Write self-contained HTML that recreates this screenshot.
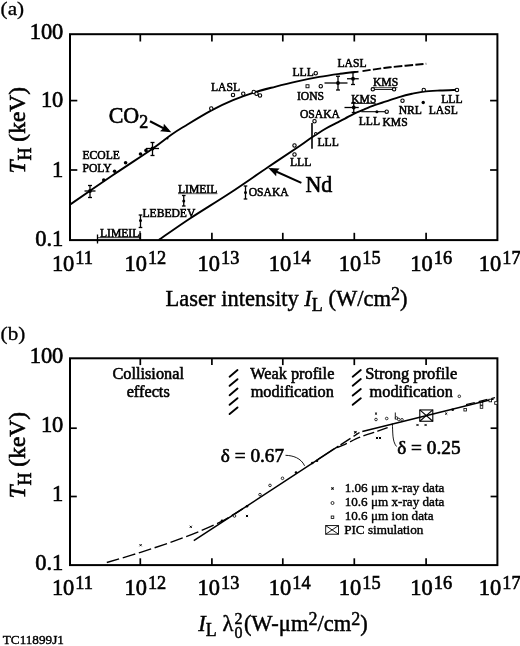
<!DOCTYPE html>
<html><head><meta charset="utf-8"><title>Figure</title>
<style>html,body{margin:0;padding:0;background:#fff}svg{display:block}text{font-family:"Liberation Serif", "DejaVu Serif", serif;fill:#000}</style>
</head><body>
<svg width="520" height="646" viewBox="0 0 520 646">
<rect width="520" height="646" fill="#fff"/>
<rect x="70" y="34.2" width="427.4" height="205.89999999999998" fill="none" stroke="#000" stroke-width="2.0"/>
<line x1="140.30" y1="34.20" x2="140.30" y2="41.50" stroke="#000" stroke-width="1.7" />
<line x1="140.30" y1="240.10" x2="140.30" y2="232.80" stroke="#000" stroke-width="1.7" />
<line x1="211.90" y1="34.20" x2="211.90" y2="41.50" stroke="#000" stroke-width="1.7" />
<line x1="211.90" y1="240.10" x2="211.90" y2="232.80" stroke="#000" stroke-width="1.7" />
<line x1="282.80" y1="34.20" x2="282.80" y2="41.50" stroke="#000" stroke-width="1.7" />
<line x1="282.80" y1="240.10" x2="282.80" y2="232.80" stroke="#000" stroke-width="1.7" />
<line x1="354.30" y1="34.20" x2="354.30" y2="41.50" stroke="#000" stroke-width="1.7" />
<line x1="354.30" y1="240.10" x2="354.30" y2="232.80" stroke="#000" stroke-width="1.7" />
<line x1="426.10" y1="34.20" x2="426.10" y2="41.50" stroke="#000" stroke-width="1.7" />
<line x1="426.10" y1="240.10" x2="426.10" y2="232.80" stroke="#000" stroke-width="1.7" />
<line x1="70.00" y1="100.60" x2="77.30" y2="100.60" stroke="#000" stroke-width="1.7" />
<line x1="497.40" y1="100.60" x2="490.10" y2="100.60" stroke="#000" stroke-width="1.7" />
<line x1="70.00" y1="170.00" x2="77.30" y2="170.00" stroke="#000" stroke-width="1.7" />
<line x1="497.40" y1="170.00" x2="490.10" y2="170.00" stroke="#000" stroke-width="1.7" />
<text transform="translate(63.30 38.80) scale(1.02 1.08)" font-size="22" text-anchor="end" stroke="#000" stroke-width="0.6" >100</text>
<text transform="translate(63.30 107.30) scale(1.02 1.08)" font-size="22" text-anchor="end" stroke="#000" stroke-width="0.6" >10</text>
<text transform="translate(63.30 176.60) scale(1.02 1.08)" font-size="22" text-anchor="end" stroke="#000" stroke-width="0.6" >1</text>
<text transform="translate(63.30 245.50) scale(1.02 1.08)" font-size="22" text-anchor="end" stroke="#000" stroke-width="0.6" >0.1</text>
<text transform="translate(51.90 270.60) scale(1.02 1.08)" font-size="22" text-anchor="start" stroke="#000" stroke-width="0.6" >10<tspan font-size="18" dy="-5.9" dx="1.0">11</tspan></text>
<text transform="translate(124.50 270.60) scale(1.02 1.08)" font-size="22" text-anchor="start" stroke="#000" stroke-width="0.6" >10<tspan font-size="18" dy="-5.9" dx="1.0">12</tspan></text>
<text transform="translate(197.60 270.60) scale(1.02 1.08)" font-size="22" text-anchor="start" stroke="#000" stroke-width="0.6" >10<tspan font-size="18" dy="-5.9" dx="1.0">13</tspan></text>
<text transform="translate(268.80 270.60) scale(1.02 1.08)" font-size="22" text-anchor="start" stroke="#000" stroke-width="0.6" >10<tspan font-size="18" dy="-5.9" dx="1.0">14</tspan></text>
<text transform="translate(338.80 270.60) scale(1.02 1.08)" font-size="22" text-anchor="start" stroke="#000" stroke-width="0.6" >10<tspan font-size="18" dy="-5.9" dx="1.0">15</tspan></text>
<text transform="translate(410.30 270.60) scale(1.02 1.08)" font-size="22" text-anchor="start" stroke="#000" stroke-width="0.6" >10<tspan font-size="18" dy="-5.9" dx="1.0">16</tspan></text>
<text transform="translate(478.80 270.60) scale(1.02 1.08)" font-size="22" text-anchor="start" stroke="#000" stroke-width="0.6" >10<tspan font-size="18" dy="-5.9" dx="1.0">17</tspan></text>
<text transform="translate(0.60 15.40) scale(1.07 1)" font-size="19.8" text-anchor="start" stroke="#000" stroke-width="0.3" >(a)</text>
<text x="24.80" y="130.20" font-size="23.5" text-anchor="middle" stroke="#000" stroke-width="0.6" transform="rotate(-90 24.8 130.2)"><tspan font-style="italic">T</tspan><tspan font-size="18" dy="6">H</tspan><tspan dy="-6"> (keV)</tspan></text>
<text x="286.50" y="306.20" font-size="22.5" text-anchor="middle" stroke="#000" stroke-width="0.45" >Laser intensity <tspan font-style="italic">I</tspan><tspan font-size="18" dy="5">L</tspan><tspan dy="-5"> (W/cm</tspan><tspan font-size="18" dy="-6">2</tspan><tspan dy="6">)</tspan></text>
<path d="M70.00,204.60 C73.33,202.30 81.67,196.50 90.00,190.80 C98.33,185.10 109.58,177.42 120.00,170.40 C130.42,163.38 143.95,154.65 152.50,148.70 C161.05,142.75 165.95,138.45 171.30,134.70 C176.65,130.95 177.90,130.25 184.60,126.20 C191.30,122.15 203.43,114.73 211.50,110.40 C219.57,106.07 225.96,103.17 233.00,100.20 C240.04,97.23 246.75,94.83 253.75,92.60 C260.75,90.37 267.93,88.63 275.00,86.80 C282.07,84.97 288.82,83.25 296.20,81.60 C303.58,79.95 312.00,78.20 319.30,76.90 C326.60,75.60 333.47,74.68 340.00,73.80 C346.53,72.92 355.42,71.97 358.50,71.60" fill="none" stroke="#000" stroke-width="1.9" />
<path d="M362.50,71.10 C367.08,70.47 379.38,68.52 390.00,67.30 C400.62,66.08 420.21,64.34 426.25,63.75" fill="none" stroke="#000" stroke-width="1.9" stroke-dasharray="8.4 2.2"/>
<path d="M158.75,240.00 C163.96,236.42 178.12,226.33 190.00,218.50 C201.88,210.67 217.08,201.50 230.00,193.00 C242.92,184.50 255.83,175.37 267.50,167.50 C279.17,159.63 292.70,150.75 300.00,145.80 C307.30,140.85 307.20,140.57 311.30,137.80 C315.40,135.03 320.47,131.63 324.60,129.20 C328.73,126.77 332.70,124.97 336.10,123.20 C339.50,121.43 342.05,120.17 345.00,118.60 C347.95,117.03 350.78,115.27 353.80,113.80 C356.82,112.33 359.63,111.23 363.10,109.80 C366.57,108.37 370.77,106.60 374.60,105.20 C378.43,103.80 381.87,102.80 386.10,101.40 C390.33,100.00 395.68,98.07 400.00,96.80 C404.32,95.53 408.04,94.67 412.00,93.80 C415.96,92.93 419.08,92.15 423.75,91.60 C428.42,91.05 434.46,90.80 440.00,90.50 C445.54,90.20 454.17,89.92 457.00,89.80" fill="none" stroke="#000" stroke-width="1.9" />
<line x1="84.50" y1="191.00" x2="95.50" y2="191.00" stroke="#000" stroke-width="1.3" />
<line x1="90.00" y1="185.50" x2="90.00" y2="197.50" stroke="#000" stroke-width="1.3" />
<line x1="88.00" y1="185.50" x2="92.00" y2="185.50" stroke="#000" stroke-width="1.3" />
<line x1="88.00" y1="197.50" x2="92.00" y2="197.50" stroke="#000" stroke-width="1.3" />
<circle cx="90.00" cy="191.00" r="1.9" fill="#000"/>
<line x1="146.00" y1="148.50" x2="159.00" y2="148.50" stroke="#000" stroke-width="1.3" />
<line x1="152.50" y1="142.50" x2="152.50" y2="155.50" stroke="#000" stroke-width="1.3" />
<line x1="150.50" y1="142.50" x2="154.50" y2="142.50" stroke="#000" stroke-width="1.3" />
<line x1="150.50" y1="155.50" x2="154.50" y2="155.50" stroke="#000" stroke-width="1.3" />
<circle cx="152.50" cy="148.50" r="1.9" fill="#000"/>
<circle cx="103.75" cy="180.00" r="1.8" fill="#000"/>
<circle cx="114.60" cy="171.20" r="1.8" fill="#000"/>
<circle cx="125.60" cy="162.80" r="1.8" fill="#000"/>
<circle cx="140.50" cy="154.00" r="1.8" fill="#000"/>
<circle cx="146.00" cy="150.40" r="1.8" fill="#000"/>
<circle cx="167.50" cy="138.50" r="1.0" fill="#000"/>
<line x1="97.50" y1="237.70" x2="140.00" y2="237.70" stroke="#000" stroke-width="0.8" />
<line x1="97.50" y1="234.50" x2="97.50" y2="243.50" stroke="#000" stroke-width="1.3" />
<line x1="140.00" y1="231.00" x2="140.00" y2="240.00" stroke="#000" stroke-width="1.1" />
<line x1="95.80" y1="240.50" x2="99.20" y2="240.50" stroke="#000" stroke-width="1.2" />
<line x1="140.50" y1="215.00" x2="140.50" y2="227.50" stroke="#000" stroke-width="1.3" />
<line x1="138.70" y1="215.00" x2="142.30" y2="215.00" stroke="#000" stroke-width="1.3" />
<line x1="138.70" y1="227.50" x2="142.30" y2="227.50" stroke="#000" stroke-width="1.3" />
<circle cx="140.50" cy="220.50" r="1.5" fill="#000"/>
<line x1="183.75" y1="195.50" x2="183.75" y2="206.00" stroke="#000" stroke-width="1.3" />
<line x1="181.95" y1="195.50" x2="185.55" y2="195.50" stroke="#000" stroke-width="1.3" />
<line x1="181.95" y1="206.00" x2="185.55" y2="206.00" stroke="#000" stroke-width="1.3" />
<circle cx="183.75" cy="201.00" r="1.5" fill="#000"/>
<line x1="178.00" y1="193.70" x2="217.50" y2="193.70" stroke="#000" stroke-width="0.6" />
<line x1="245.50" y1="186.00" x2="245.50" y2="199.00" stroke="#000" stroke-width="1.3" />
<line x1="243.70" y1="186.00" x2="247.30" y2="186.00" stroke="#000" stroke-width="1.3" />
<line x1="243.70" y1="199.00" x2="247.30" y2="199.00" stroke="#000" stroke-width="1.3" />
<circle cx="245.50" cy="192.50" r="1.5" fill="#000"/>
<circle cx="211.25" cy="108.50" r="1.7" fill="#fff" stroke="#000" stroke-width="1.1"/>
<circle cx="233.00" cy="95.00" r="1.7" fill="#fff" stroke="#000" stroke-width="1.1"/>
<circle cx="243.25" cy="93.75" r="1.7" fill="#fff" stroke="#000" stroke-width="1.1"/>
<circle cx="253.75" cy="92.00" r="1.7" fill="#fff" stroke="#000" stroke-width="1.1"/>
<circle cx="256.50" cy="93.75" r="1.7" fill="#fff" stroke="#000" stroke-width="1.1"/>
<circle cx="260.00" cy="95.50" r="1.7" fill="#fff" stroke="#000" stroke-width="1.1"/>
<circle cx="315.75" cy="73.25" r="1.7" fill="#fff" stroke="#000" stroke-width="1.1"/>
<line x1="324.50" y1="83.00" x2="347.50" y2="83.00" stroke="#000" stroke-width="1.3" />
<line x1="338.00" y1="76.25" x2="338.00" y2="90.00" stroke="#000" stroke-width="1.3" />
<line x1="336.00" y1="76.25" x2="340.00" y2="76.25" stroke="#000" stroke-width="1.3" />
<line x1="336.00" y1="90.00" x2="340.00" y2="90.00" stroke="#000" stroke-width="1.3" />
<circle cx="338.00" cy="83.00" r="1.9" fill="#000"/>
<line x1="347.00" y1="78.75" x2="358.75" y2="78.75" stroke="#000" stroke-width="1.3" />
<line x1="353.00" y1="72.50" x2="353.00" y2="84.50" stroke="#000" stroke-width="1.3" />
<line x1="351.00" y1="72.50" x2="355.00" y2="72.50" stroke="#000" stroke-width="1.3" />
<line x1="351.00" y1="84.50" x2="355.00" y2="84.50" stroke="#000" stroke-width="1.3" />
<circle cx="353.00" cy="78.75" r="1.9" fill="#000"/>
<line x1="344.50" y1="107.50" x2="358.75" y2="107.50" stroke="#000" stroke-width="1.3" />
<line x1="353.75" y1="102.50" x2="353.75" y2="112.50" stroke="#000" stroke-width="1.3" />
<line x1="351.75" y1="102.50" x2="355.75" y2="102.50" stroke="#000" stroke-width="1.3" />
<line x1="351.75" y1="112.50" x2="355.75" y2="112.50" stroke="#000" stroke-width="1.3" />
<circle cx="353.75" cy="107.50" r="1.9" fill="#000"/>
<line x1="373.00" y1="87.60" x2="397.50" y2="87.60" stroke="#000" stroke-width="0.7" />
<line x1="373.00" y1="89.40" x2="394.00" y2="89.40" stroke="#000" stroke-width="1.0" />
<circle cx="372.80" cy="89.30" r="1.7" fill="#fff" stroke="#000" stroke-width="1.1"/>
<circle cx="394.10" cy="89.30" r="1.7" fill="#fff" stroke="#000" stroke-width="1.1"/>
<rect x="306.00" y="84.75" width="3" height="3" fill="#fff" stroke="#000" stroke-width="0.9"/>
<circle cx="320.75" cy="86.25" r="1.7" fill="#fff" stroke="#000" stroke-width="1.1"/>
<line x1="351.25" y1="103.50" x2="375.75" y2="103.50" stroke="#000" stroke-width="0.8" />
<line x1="361.30" y1="111.70" x2="386.70" y2="111.70" stroke="#000" stroke-width="1.1" />
<circle cx="376.90" cy="111.70" r="1.5" fill="#000"/>
<circle cx="386.70" cy="111.70" r="1.7" fill="#fff" stroke="#000" stroke-width="1.1"/>
<line x1="312.00" y1="123.00" x2="312.00" y2="148.75" stroke="#000" stroke-width="1.6" />
<circle cx="314.50" cy="121.25" r="1.7" fill="#fff" stroke="#000" stroke-width="1.1"/>
<circle cx="315.75" cy="133.75" r="1.2" fill="#fff" stroke="#000" stroke-width="1.1"/>
<circle cx="402.50" cy="100.75" r="1.7" fill="#fff" stroke="#000" stroke-width="1.1"/>
<circle cx="423.75" cy="90.00" r="1.7" fill="#fff" stroke="#000" stroke-width="1.1"/>
<circle cx="457.00" cy="90.00" r="1.7" fill="#fff" stroke="#000" stroke-width="1.1"/>
<circle cx="423.25" cy="102.50" r="1.7" fill="#000"/>
<circle cx="294.50" cy="145.50" r="1.7" fill="#fff" stroke="#000" stroke-width="1.1"/>
<circle cx="294.50" cy="154.50" r="1.7" fill="#fff" stroke="#000" stroke-width="1.1"/>
<text x="82.50" y="159.20" font-size="11.6" text-anchor="start" stroke="#000" stroke-width="0.55" >ECOLE</text>
<text x="82.50" y="171.90" font-size="11.6" text-anchor="start" stroke="#000" stroke-width="0.55" >POLY</text>
<text x="178.00" y="193.00" font-size="11.6" text-anchor="start" stroke="#000" stroke-width="0.55" >LIMEIL</text>
<text x="142.50" y="217.00" font-size="11.6" text-anchor="start" stroke="#000" stroke-width="0.55" >LEBEDEV</text>
<text x="100.00" y="237.00" font-size="11.6" text-anchor="start" stroke="#000" stroke-width="0.55" >LIMEIL</text>
<text x="211.00" y="90.75" font-size="11.6" text-anchor="start" stroke="#000" stroke-width="0.55" >LASL</text>
<text x="248.75" y="196.00" font-size="11.6" text-anchor="start" stroke="#000" stroke-width="0.55" >OSAKA</text>
<text x="292.50" y="76.25" font-size="11.6" text-anchor="start" stroke="#000" stroke-width="0.55" >LLL</text>
<text x="337.50" y="67.00" font-size="11.6" text-anchor="start" stroke="#000" stroke-width="0.55" >LASL</text>
<text x="373.00" y="86.25" font-size="11.6" text-anchor="start" stroke="#000" stroke-width="0.55" >KMS</text>
<text x="297.00" y="100.00" font-size="11.6" text-anchor="start" stroke="#000" stroke-width="0.55" >IONS</text>
<text x="351.25" y="102.50" font-size="11.6" text-anchor="start" stroke="#000" stroke-width="0.55" >KMS</text>
<text x="300.00" y="117.50" font-size="11.6" text-anchor="start" stroke="#000" stroke-width="0.55" >OSAKA</text>
<text x="358.75" y="124.50" font-size="11.6" text-anchor="start" stroke="#000" stroke-width="0.55" >LLL</text>
<text x="382.50" y="126.25" font-size="11.6" text-anchor="start" stroke="#000" stroke-width="0.55" >KMS</text>
<text x="398.75" y="113.75" font-size="11.6" text-anchor="start" stroke="#000" stroke-width="0.55" >NRL</text>
<text x="428.75" y="113.75" font-size="11.6" text-anchor="start" stroke="#000" stroke-width="0.55" >LASL</text>
<text x="441.25" y="102.50" font-size="11.6" text-anchor="start" stroke="#000" stroke-width="0.55" >LLL</text>
<text x="317.50" y="146.25" font-size="11.6" text-anchor="start" stroke="#000" stroke-width="0.55" >LLL</text>
<text x="290.00" y="166.25" font-size="11.6" text-anchor="start" stroke="#000" stroke-width="0.55" >LLL</text>
<text transform="translate(108.70 123.30) scale(1 1.07)" font-size="22" text-anchor="start" stroke="#000" stroke-width="0.6" >CO<tspan font-size="18" dy="4.5">2</tspan></text>
<text transform="translate(305.50 191.50) scale(1 1.08)" font-size="22" text-anchor="start" stroke="#000" stroke-width="0.6" >Nd</text>
<line x1="150.00" y1="121.30" x2="168.63" y2="130.92" stroke="#000" stroke-width="2.1" />
<polygon points="171.30,132.30 160.04,131.21 163.30,128.17 163.90,123.75" fill="#000"/>
<line x1="301.40" y1="182.90" x2="271.04" y2="169.23" stroke="#000" stroke-width="2.1" />
<polygon points="268.30,168.00 279.60,168.48 276.51,171.69 276.15,176.14" fill="#000"/>
<rect x="70" y="358.3" width="427.4" height="206.8" fill="none" stroke="#000" stroke-width="2.0"/>
<line x1="140.30" y1="358.30" x2="140.30" y2="365.10" stroke="#000" stroke-width="1.7" />
<line x1="140.30" y1="565.10" x2="140.30" y2="558.30" stroke="#000" stroke-width="1.7" />
<line x1="211.90" y1="358.30" x2="211.90" y2="365.10" stroke="#000" stroke-width="1.7" />
<line x1="211.90" y1="565.10" x2="211.90" y2="558.30" stroke="#000" stroke-width="1.7" />
<line x1="282.80" y1="358.30" x2="282.80" y2="365.10" stroke="#000" stroke-width="1.7" />
<line x1="282.80" y1="565.10" x2="282.80" y2="558.30" stroke="#000" stroke-width="1.7" />
<line x1="354.30" y1="358.30" x2="354.30" y2="365.10" stroke="#000" stroke-width="1.7" />
<line x1="354.30" y1="565.10" x2="354.30" y2="558.30" stroke="#000" stroke-width="1.7" />
<line x1="426.10" y1="358.30" x2="426.10" y2="365.10" stroke="#000" stroke-width="1.7" />
<line x1="426.10" y1="565.10" x2="426.10" y2="558.30" stroke="#000" stroke-width="1.7" />
<line x1="70.00" y1="428.20" x2="76.80" y2="428.20" stroke="#000" stroke-width="1.7" />
<line x1="497.40" y1="428.20" x2="490.60" y2="428.20" stroke="#000" stroke-width="1.7" />
<line x1="70.00" y1="496.50" x2="76.80" y2="496.50" stroke="#000" stroke-width="1.7" />
<line x1="497.40" y1="496.50" x2="490.60" y2="496.50" stroke="#000" stroke-width="1.7" />
<text transform="translate(63.30 363.00) scale(1.02 1.08)" font-size="22" text-anchor="end" stroke="#000" stroke-width="0.6" >100</text>
<text transform="translate(63.30 432.20) scale(1.02 1.08)" font-size="22" text-anchor="end" stroke="#000" stroke-width="0.6" >10</text>
<text transform="translate(63.30 501.40) scale(1.02 1.08)" font-size="22" text-anchor="end" stroke="#000" stroke-width="0.6" >1</text>
<text transform="translate(63.30 570.20) scale(1.02 1.08)" font-size="22" text-anchor="end" stroke="#000" stroke-width="0.6" >0.1</text>
<text transform="translate(51.90 595.30) scale(1.02 1.08)" font-size="22" text-anchor="start" stroke="#000" stroke-width="0.6" >10<tspan font-size="18" dy="-5.9" dx="1.0">11</tspan></text>
<text transform="translate(124.50 595.30) scale(1.02 1.08)" font-size="22" text-anchor="start" stroke="#000" stroke-width="0.6" >10<tspan font-size="18" dy="-5.9" dx="1.0">12</tspan></text>
<text transform="translate(197.60 595.30) scale(1.02 1.08)" font-size="22" text-anchor="start" stroke="#000" stroke-width="0.6" >10<tspan font-size="18" dy="-5.9" dx="1.0">13</tspan></text>
<text transform="translate(268.80 595.30) scale(1.02 1.08)" font-size="22" text-anchor="start" stroke="#000" stroke-width="0.6" >10<tspan font-size="18" dy="-5.9" dx="1.0">14</tspan></text>
<text transform="translate(338.80 595.30) scale(1.02 1.08)" font-size="22" text-anchor="start" stroke="#000" stroke-width="0.6" >10<tspan font-size="18" dy="-5.9" dx="1.0">15</tspan></text>
<text transform="translate(410.30 595.30) scale(1.02 1.08)" font-size="22" text-anchor="start" stroke="#000" stroke-width="0.6" >10<tspan font-size="18" dy="-5.9" dx="1.0">16</tspan></text>
<text transform="translate(478.80 595.30) scale(1.02 1.08)" font-size="22" text-anchor="start" stroke="#000" stroke-width="0.6" >10<tspan font-size="18" dy="-5.9" dx="1.0">17</tspan></text>
<text transform="translate(0.60 339.70) scale(1.07 1)" font-size="19.8" text-anchor="start" stroke="#000" stroke-width="0.3" >(b)</text>
<text x="24.80" y="455.20" font-size="23.5" text-anchor="middle" stroke="#000" stroke-width="0.6" transform="rotate(-90 24.8 455.2)"><tspan font-style="italic">T</tspan><tspan font-size="18" dy="6">H</tspan><tspan dy="-6"> (keV)</tspan></text>
<text x="283.00" y="631.30" font-size="22.5" text-anchor="middle" stroke="#000" stroke-width="0.45" ><tspan font-style="italic">I</tspan><tspan font-size="18" dy="5">L</tspan><tspan dy="-5"> λ</tspan><tspan font-size="16" dy="-7.5" dx="1">2</tspan><tspan font-size="16" dy="14" dx="-8">0</tspan><tspan dy="-6.5" dx="1.5">(W-μm</tspan><tspan font-size="18" dy="-6">2</tspan><tspan dy="6">/cm</tspan><tspan font-size="18" dy="-6">2</tspan><tspan dy="6">)</tspan></text>
<text x="2.80" y="644.30" font-size="13.2" text-anchor="start" stroke="#000" stroke-width="0.4" >TC11899J1</text>
<text x="148.20" y="378.75" font-size="16.3" text-anchor="middle" stroke="#000" stroke-width="0.55" >Collisional</text>
<text x="148.20" y="397.00" font-size="16.3" text-anchor="middle" stroke="#000" stroke-width="0.55" >effects</text>
<text x="292.30" y="378.80" font-size="16.3" text-anchor="middle" stroke="#000" stroke-width="0.55" >Weak profile</text>
<text x="292.30" y="397.30" font-size="16.3" text-anchor="middle" stroke="#000" stroke-width="0.55" >modification</text>
<text x="411.20" y="379.30" font-size="16.5" text-anchor="middle" stroke="#000" stroke-width="0.55" >Strong profile</text>
<text x="411.20" y="397.30" font-size="16.3" text-anchor="middle" stroke="#000" stroke-width="0.55" >modification</text>
<line x1="229.60" y1="376.70" x2="237.50" y2="370.10" stroke="#000" stroke-width="1.9" stroke-linecap="round"/>
<line x1="229.60" y1="385.80" x2="237.50" y2="379.20" stroke="#000" stroke-width="1.9" stroke-linecap="round"/>
<line x1="229.60" y1="395.20" x2="237.50" y2="388.60" stroke="#000" stroke-width="1.9" stroke-linecap="round"/>
<line x1="229.60" y1="404.80" x2="237.50" y2="398.20" stroke="#000" stroke-width="1.9" stroke-linecap="round"/>
<line x1="229.60" y1="414.05" x2="237.50" y2="407.45" stroke="#000" stroke-width="1.9" stroke-linecap="round"/>
<line x1="352.70" y1="376.70" x2="360.80" y2="370.10" stroke="#000" stroke-width="1.9" stroke-linecap="round"/>
<line x1="352.70" y1="385.65" x2="360.80" y2="379.05" stroke="#000" stroke-width="1.9" stroke-linecap="round"/>
<line x1="352.70" y1="395.60" x2="360.80" y2="389.00" stroke="#000" stroke-width="1.9" stroke-linecap="round"/>
<line x1="352.70" y1="404.85" x2="360.80" y2="398.25" stroke="#000" stroke-width="1.9" stroke-linecap="round"/>
<text x="220.80" y="462.40" font-size="19.3" text-anchor="start" stroke="#000" stroke-width="0.6" >δ = 0.67</text>
<text x="397.20" y="453.80" font-size="19.3" text-anchor="start" stroke="#000" stroke-width="0.6" >δ = 0.25</text>
<path d="M285.5,455.3 C293,455.5 301,458 304.6,465.8" fill="none" stroke="#000" stroke-width="0.9" />
<path d="M392.3,423.4 C393,432 392,441 396.5,446.5" fill="none" stroke="#000" stroke-width="0.9" />
<line x1="193.80" y1="540.70" x2="338.50" y2="446.21" stroke="#000" stroke-width="1.5" />
<line x1="362.30" y1="431.50" x2="493.60" y2="399.07" stroke="#000" stroke-width="1.6" />
<line x1="340.50" y1="444.90" x2="350.50" y2="438.37" stroke="#000" stroke-width="1.4" />
<line x1="353.50" y1="436.41" x2="359.50" y2="432.50" stroke="#000" stroke-width="1.3" />
<path d="M106.80,562.50 C112.43,560.80 127.90,556.42 140.60,552.30 C153.30,548.18 169.77,542.82 183.00,537.80 C196.23,532.78 209.50,527.40 220.00,522.20 C230.50,517.00 241.67,509.20 246.00,506.60" fill="none" stroke="#000" stroke-width="1.4" stroke-dasharray="13 3.7"/>
<path d="M337.00,447.60 C338.33,447.05 341.17,446.03 345.00,444.30 C348.83,442.57 354.55,439.38 360.00,437.20 C365.45,435.02 372.70,432.93 377.70,431.20 C382.70,429.47 387.95,427.53 390.00,426.80" fill="none" stroke="#000" stroke-width="1.4" stroke-dasharray="11 3.5"/>
<path d="M318,459.2 L334,448.8" fill="none" stroke="#000" stroke-width="1.2" />
<path d="M466,404.6 L495,397.6" fill="none" stroke="#000" stroke-width="1.2" stroke-dasharray="9 4"/>
<rect x="419.80" y="409.95" width="13" height="11.3" fill="none" stroke="#000" stroke-width="1.1"/>
<line x1="419.80" y1="409.95" x2="432.80" y2="421.25" stroke="#000" stroke-width="1.1" />
<line x1="419.80" y1="421.25" x2="432.80" y2="409.95" stroke="#000" stroke-width="1.1" />
<line x1="139.55" y1="544.15" x2="141.65" y2="546.25" stroke="#000" stroke-width="1.0" />
<line x1="139.55" y1="546.25" x2="141.65" y2="544.15" stroke="#000" stroke-width="1.0" />
<line x1="189.75" y1="525.75" x2="191.85" y2="527.85" stroke="#000" stroke-width="1.0" />
<line x1="189.75" y1="527.85" x2="191.85" y2="525.75" stroke="#000" stroke-width="1.0" />
<line x1="245.95" y1="514.95" x2="248.05" y2="517.05" stroke="#000" stroke-width="1.0" />
<line x1="245.95" y1="517.05" x2="248.05" y2="514.95" stroke="#000" stroke-width="1.0" />
<line x1="354.35" y1="430.95" x2="356.45" y2="433.05" stroke="#000" stroke-width="1.0" />
<line x1="354.35" y1="433.05" x2="356.45" y2="430.95" stroke="#000" stroke-width="1.0" />
<line x1="354.35" y1="431.55" x2="356.45" y2="433.65" stroke="#000" stroke-width="1.0" />
<line x1="354.35" y1="433.65" x2="356.45" y2="431.55" stroke="#000" stroke-width="1.0" />
<line x1="374.95" y1="412.55" x2="377.05" y2="414.65" stroke="#000" stroke-width="1.0" />
<line x1="374.95" y1="414.65" x2="377.05" y2="412.55" stroke="#000" stroke-width="1.0" />
<line x1="375.95" y1="436.95" x2="378.05" y2="439.05" stroke="#000" stroke-width="1.0" />
<line x1="375.95" y1="439.05" x2="378.05" y2="436.95" stroke="#000" stroke-width="1.0" />
<line x1="378.95" y1="436.95" x2="381.05" y2="439.05" stroke="#000" stroke-width="1.0" />
<line x1="378.95" y1="439.05" x2="381.05" y2="436.95" stroke="#000" stroke-width="1.0" />
<line x1="416.45" y1="423.95" x2="418.55" y2="426.05" stroke="#000" stroke-width="1.0" />
<line x1="416.45" y1="426.05" x2="418.55" y2="423.95" stroke="#000" stroke-width="1.0" />
<line x1="424.55" y1="423.95" x2="426.65" y2="426.05" stroke="#000" stroke-width="1.0" />
<line x1="424.55" y1="426.05" x2="426.65" y2="423.95" stroke="#000" stroke-width="1.0" />
<line x1="445.15" y1="412.55" x2="447.25" y2="414.65" stroke="#000" stroke-width="1.0" />
<line x1="445.15" y1="414.65" x2="447.25" y2="412.55" stroke="#000" stroke-width="1.0" />
<circle cx="234.50" cy="516.00" r="1.3" fill="#fff" stroke="#000" stroke-width="0.8"/>
<circle cx="260.00" cy="494.60" r="1.3" fill="#fff" stroke="#000" stroke-width="0.8"/>
<circle cx="270.00" cy="485.40" r="1.3" fill="#fff" stroke="#000" stroke-width="0.8"/>
<circle cx="282.50" cy="478.30" r="1.3" fill="#fff" stroke="#000" stroke-width="0.8"/>
<circle cx="376.00" cy="419.50" r="1.3" fill="#fff" stroke="#000" stroke-width="0.8"/>
<circle cx="386.70" cy="418.50" r="1.3" fill="#fff" stroke="#000" stroke-width="0.8"/>
<circle cx="398.80" cy="419.50" r="1.3" fill="#fff" stroke="#000" stroke-width="0.8"/>
<circle cx="402.00" cy="419.80" r="1.3" fill="#fff" stroke="#000" stroke-width="0.8"/>
<circle cx="459.30" cy="396.30" r="1.3" fill="#fff" stroke="#000" stroke-width="0.8"/>
<circle cx="222.00" cy="520.80" r="1.3" fill="#000"/>
<circle cx="247.00" cy="506.30" r="1.3" fill="#000"/>
<circle cx="296.00" cy="472.50" r="1.3" fill="#000"/>
<circle cx="312.30" cy="463.00" r="1.3" fill="#000"/>
<circle cx="317.00" cy="460.80" r="1.3" fill="#000"/>
<circle cx="452.70" cy="409.70" r="1.3" fill="#000"/>
<line x1="395.30" y1="412.50" x2="395.30" y2="419.50" stroke="#000" stroke-width="0.9" />
<circle cx="396.50" cy="418.00" r="1.3" fill="#fff" stroke="#000" stroke-width="0.8"/>
<rect x="463.90" y="408.40" width="2.6" height="2.6" fill="#fff" stroke="#000" stroke-width="0.8"/>
<rect x="480.20" y="405.70" width="2.6" height="2.6" fill="#fff" stroke="#000" stroke-width="0.8"/>
<rect x="480.20" y="402.50" width="2.6" height="2.6" fill="#fff" stroke="#000" stroke-width="0.8"/>
<rect x="489.00" y="399.20" width="2.6" height="2.6" fill="#fff" stroke="#000" stroke-width="0.8"/>
<rect x="494.70" y="401.70" width="2.6" height="2.6" fill="#fff" stroke="#000" stroke-width="0.8"/>
<line x1="331.40" y1="487.40" x2="333.60" y2="489.60" stroke="#000" stroke-width="1.1" />
<line x1="331.40" y1="489.60" x2="333.60" y2="487.40" stroke="#000" stroke-width="1.1" />
<circle cx="332.50" cy="503.00" r="1.5" fill="#fff" stroke="#000" stroke-width="0.8"/>
<rect x="331.20" y="516.00" width="2.6" height="2.6" fill="#fff" stroke="#000" stroke-width="0.8"/>
<rect x="325.70" y="525.60" width="12.8" height="8.6" fill="none" stroke="#000" stroke-width="0.9"/>
<line x1="325.70" y1="525.60" x2="338.50" y2="534.20" stroke="#000" stroke-width="0.9" />
<line x1="325.70" y1="534.20" x2="338.50" y2="525.60" stroke="#000" stroke-width="0.9" />
<text x="344.70" y="491.60" font-size="13.15" text-anchor="start" stroke="#000" stroke-width="0.4" >1.06 μm x-ray data</text>
<text x="344.70" y="505.80" font-size="13.15" text-anchor="start" stroke="#000" stroke-width="0.4" >10.6 μm x-ray data</text>
<text x="344.70" y="519.90" font-size="13.15" text-anchor="start" stroke="#000" stroke-width="0.4" >10.6 μm ion data</text>
<text x="344.20" y="534.10" font-size="13.15" text-anchor="start" stroke="#000" stroke-width="0.4" >PIC simulation</text>
</svg>
</body></html>
